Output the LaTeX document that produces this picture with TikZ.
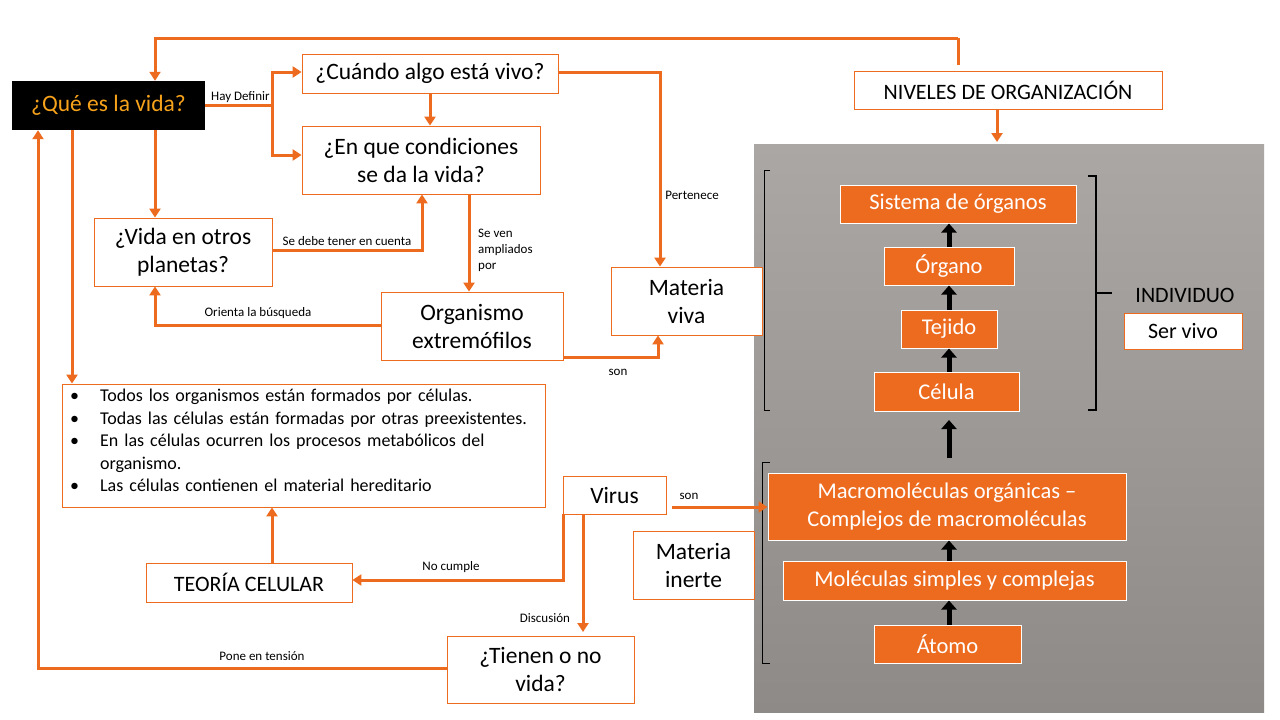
\documentclass[tikz,border=0pt]{standalone}
\usepackage{fontspec}
\setmainfont{Carlito}
\usetikzlibrary{arrows.meta,decorations.pathreplacing}
\definecolor{org}{HTML}{ED6B1F}
\definecolor{qtxt}{HTML}{F7A21B}
\definecolor{gtop}{HTML}{ABA7A4}
\definecolor{gbot}{HTML}{8E8A87}
\begin{document}
\begin{tikzpicture}[x=1pt,y=-1pt,
  wbox/.style={draw=org,line width=0.8pt,fill=white,align=center,inner sep=0pt},
  obox/.style={draw=white,line width=1pt,fill=org,inner sep=0pt},
  bt/.style={font=\fontsize{23.5}{28}\selectfont,align=center},
  wt/.style={text=white,font=\fontsize{22.5}{28}\selectfont,align=center},
  con/.style={draw=org,line width=3pt,-{Triangle[length=9pt,width=11pt]}},
  pl/.style={draw=org,line width=3pt},
  bar/.style={line width=5pt,-{Triangle[length=9pt,width=15pt]}},
  lab/.style={font=\fontsize{13}{16}\selectfont,inner sep=0pt,align=left}]
\useasboundingbox (0,0) rectangle (1280,720);
\fill[white] (0,0) rectangle (1280,720);
\shade[top color=gtop,bottom color=gbot] (754,144) rectangle (1264,712);
\newcommand{\bx}[6]{\node[#1,minimum width=#4-#2,minimum height=#5-#3] (#6) at ({(#2+#4)/2},{(#3+#5)/2}) {};}
\bx{draw=none,fill=black}{12}{81}{205}{130}{que}
\node[bt,text=qtxt] at (que) {¿Qué es la vida?};
\bx{wbox}{302}{54}{558}{93}{cuando}\node[bt] at (cuando) {¿Cuándo algo está vivo?};
\bx{wbox}{302}{126}{540}{194}{cond}\node[bt] at (cond) {¿En que condiciones\\se da la vida?};
\bx{wbox}{94}{218}{272}{286}{otros}\node[bt] at (otros) {¿Vida en otros\\planetas?};
\bx{wbox}{381}{292}{563}{360}{orgn}\node[bt] at (orgn) {Organismo\\extremófilos};
\bx{wbox}{611}{267}{762}{335}{mviva}\node[bt] at (mviva) {Materia\\viva};
\bx{wbox}{854}{71}{1162}{109}{niv}\node[font=\fontsize{22}{28}\selectfont] at (niv) {NIVELES DE ORGANIZACIÓN};
\bx{wbox}{62}{384}{545}{507}{lista}
\node[anchor=north west,font=\fontsize{18}{22.5}\selectfont,align=left,inner sep=0pt,text width=470pt] at (68,389) {\raggedright
\makebox[32pt][l]{\hspace{2pt}•}Todos los organismos están formados por células.\\
\makebox[32pt][l]{\hspace{2pt}•}Todas las células están formadas por otras preexistentes.\\
\makebox[32pt][l]{\hspace{2pt}•}En las células ocurren los procesos metabólicos del\\
\hspace*{32pt}organismo.\\
\makebox[32pt][l]{\hspace{2pt}•}Las células contienen el material hereditario};
\bx{wbox}{563}{476}{666}{514}{virus}\node[bt] at (virus) {Virus};
\bx{wbox}{146}{563}{352}{602}{teo}\node[font=\fontsize{22}{28}\selectfont] at (teo) {TEORÍA CELULAR};
\bx{wbox}{447}{636}{634}{703}{tien}\node[bt] at (tien) {¿Tienen o no\\vida?};
\bx{wbox}{633}{531}{754}{599}{minerte}\node[bt] at (minerte) {Materia\\inerte};
\bx{wbox}{1124}{313}{1242}{349}{ser}\node[font=\fontsize{22}{28}\selectfont] at (ser) {Ser vivo};
\node[font=\fontsize{22}{28}\selectfont] (indiv) at (1185,295) {INDIVIDUO};
\bx{obox}{840}{185}{1076}{223}{sis}\node[wt] at (sis) {Sistema de órganos};
\bx{obox}{884}{247}{1014}{285}{orga}\node[wt] at (orga) {Órgano};
\bx{obox}{901}{310}{997}{348}{tej}\node[wt] at (tej) {Tejido};
\bx{obox}{874}{372}{1019}{411}{cel}\node[wt] at (cel) {Célula};
\bx{obox}{768}{473}{1126}{540}{mac}\node[wt] at (mac) {Macromoléculas orgánicas –\\Complejos de macromoléculas};
\bx{obox}{783}{561}{1126}{600}{mol}\node[wt] at (mol) {Moléculas simples y complejas};
\bx{obox}{874}{625}{1021}{663}{ato}\node[wt] at (ato) {Átomo};
\draw[bar] (ato.north -| 949,0) -- (mol.south -| 949,0);
\draw[bar] (mol.north -| 949,0) -- (mac.south -| 949,0);
\draw[bar] (949,458) -- (949,420);
\draw[bar] (cel.north -| 949,0) -- (tej.south -| 949,0);
\draw[bar] (tej.north -| 949,0) -- (orga.south -| 949,0);
\draw[bar] (orga.north -| 949,0) -- (sis.south -| 949,0);
\draw[line width=0.8pt] (770,170) -- (764,170) -- (764,410) -- (770,410);
\draw[line width=1.2pt] (1088,176) -- (1096,176) -- (1096,410) -- (1088,410);
\draw[line width=1.2pt] (1096,293) -- (1112,293);
\draw[line width=0.8pt] (770,462) -- (762,462) -- (762,663) -- (770,663);
\coordinate (n1) at (958,38);
\draw[pl] (958,65) -- (n1);
\draw[con] (n1) -- (155,38) -- (que.north -| 155,0);
\draw[con] (niv.south -| 997,0) -- (997,142);
\draw[pl] (que.east |- 0,105) -- (272,105);
\draw[con] (272,105) |- (cuando.west |- 0,72);
\draw[con] (272,105) |- (cond.west |- 0,155);
\node[lab,anchor=south west] at (211,103) {Hay Definir};
\draw[con] (cuando.south -| 430,0) -- (cond.north -| 430,0);
\draw[con] (cuando.east |- 0,72) -| (mviva.north -| 660,0);
\node[lab] at (692,195) {Pertenece};
\draw[con] (que.south -| 155,0) -- (otros.north -| 155,0);
\draw[con] (otros.east |- 0,250) -| (cond.south -| 422,0);
\node[lab] at (347,241) {Se debe tener en cuenta};
\draw[con] (cond.south -| 469,0) -- (orgn.north -| 469,0);
\node[lab,anchor=north west,font=\fontsize{13}{16}\selectfont] at (478,229) {Se ven\\ampliados\\por};
\draw[con] (orgn.west |- 0,325) -| (otros.south -| 155,0);
\node[lab] at (258,313) {Orienta la búsqueda};
\draw[con] (orgn.east |- 0,357) -| (mviva.south -| 658,0);
\node[lab] at (618,372) {son};
\draw[con] (que.south -| 72,0) -- (lista.north -| 72,0);
\draw[con] (tien.west |- 0,668) -| (que.south -| 38,0);
\node[lab] at (262,656) {Pone en tensión};
\draw[con] (teo.north -| 272,0) -- (lista.south -| 272,0);
\draw[con] (virus.south -| 563,0) |- (teo.east |- 0,580);
\node[lab] at (451,567) {No cumple};
\draw[con] (virus.south -| 583,0) -- (583,632);
\node[lab] at (545,618) {Discusión};
\draw[con] (672,507) -- (mac.west |- 0,507);
\node[lab] at (689,496) {son};
\end{tikzpicture}
\end{document}
